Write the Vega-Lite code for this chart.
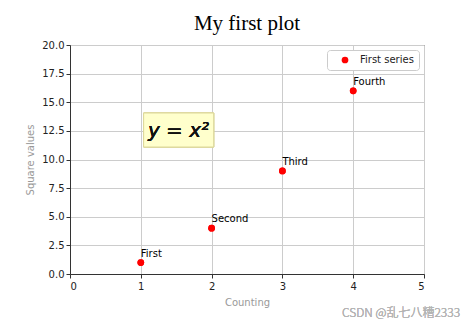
{
  "$schema": "https://vega.github.io/schema/vega-lite/v6.json",
  "width": 354,
  "height": 229,
  "autosize": {"type": "none"},
  "padding": {"left": 70, "top": 45, "right": 50, "bottom": 51},
  "background": "white",
  "title": {"text": "My first plot", "font": "Liberation Serif", "fontSize": 21, "fontWeight": "normal", "color": "black", "offset": 6, "anchor": "middle"},
  "config": {
    "view": {"stroke": "#333333", "strokeWidth": 1},
    "axis": {
      "grid": true,
      "labelOverlap": false,
      "domainColor": "#333333",
      "tickColor": "#333333",
      "tickSize": 4,
      "gridColor": "#cccccc",
      "gridWidth": 1,
      "labelFont": "DejaVu Sans",
      "labelFontSize": 10,
      "labelColor": "#222222",
      "titleFont": "DejaVu Sans",
      "titleFontSize": 10,
      "titleFontWeight": "normal",
      "titleColor": "#999999"
    }
  },
  "data": {
    "values": [
      {"x": 1, "y": 1, "label": "First", "series": "First series"},
      {"x": 2, "y": 4, "label": "Second", "series": "First series"},
      {"x": 3, "y": 9, "label": "Third", "series": "First series"},
      {"x": 4, "y": 16, "label": "Fourth", "series": "First series"}
    ]
  },
  "encoding": {
    "x": {"field": "x", "type": "quantitative", "title": "Counting", "scale": {"domain": [0, 5], "nice": false, "zero": false}, "axis": {"grid": true, "values": [0, 1, 2, 3, 4, 5], "format": "d", "labelPadding": 3, "titlePadding": 6}},
    "y": {"field": "y", "type": "quantitative", "title": "Square values", "scale": {"domain": [0, 20], "nice": false}, "axis": {"grid": true, "values": [0, 2.5, 5, 7.5, 10, 12.5, 15, 17.5, 20], "format": ".1f", "labelPadding": 2, "titlePadding": 6}}
  },
  "layer": [
    {
      "mark": {"type": "point", "filled": true, "size": 45, "opacity": 1},
      "encoding": {
        "color": {"field": "series", "type": "nominal", "scale": {"range": ["red"]}, "legend": {"title": null, "orient": "top-right", "offset": 5, "strokeColor": "#cccccc", "fillColor": "white", "padding": 5, "cornerRadius": 3, "labelFont": "DejaVu Sans", "labelFontSize": 10, "labelColor": "#222222", "symbolSize": 45, "symbolType": "circle", "symbolOffset": 8, "labelOffset": 10}}
      }
    },
    {
      "mark": {"type": "rect", "fill": "#ffffcc", "stroke": "#dcd79a", "strokeWidth": 1},
      "encoding": {
        "x": {"datum": 1.04, "type": "quantitative"},
        "x2": {"datum": 2.03},
        "y": {"datum": 14.06, "type": "quantitative"},
        "y2": {"datum": 11.09}
      }
    },
    {
      "mark": {"type": "text", "text": "y = x²", "font": "DejaVu Sans", "fontSize": 20, "fontStyle": "italic", "fontWeight": "normal", "align": "left", "baseline": "middle", "color": "#111111"},
      "encoding": {
        "x": {"datum": 1.1, "type": "quantitative"},
        "y": {"datum": 12.5, "type": "quantitative"}
      }
    },
    {
      "mark": {"type": "point", "filled": true, "size": 45, "opacity": 1, "color": "red"}
    },
    {
      "mark": {"type": "text", "align": "left", "baseline": "bottom", "dy": -4, "font": "DejaVu Sans", "fontSize": 10, "color": "black"},
      "encoding": {
        "text": {"field": "label"}
      }
    },
    {
      "mark": {"type": "text", "text": "CSDN @乱七八糟2333", "font": "Noto Sans CJK SC", "fontSize": 12, "fontWeight": 300, "align": "right", "baseline": "middle", "color": "#b4b4b4", "clip": false},
      "encoding": {
        "x": {"datum": 5.51, "type": "quantitative"},
        "y": {"datum": -3.4, "type": "quantitative"}
      }
    }
  ]
}
